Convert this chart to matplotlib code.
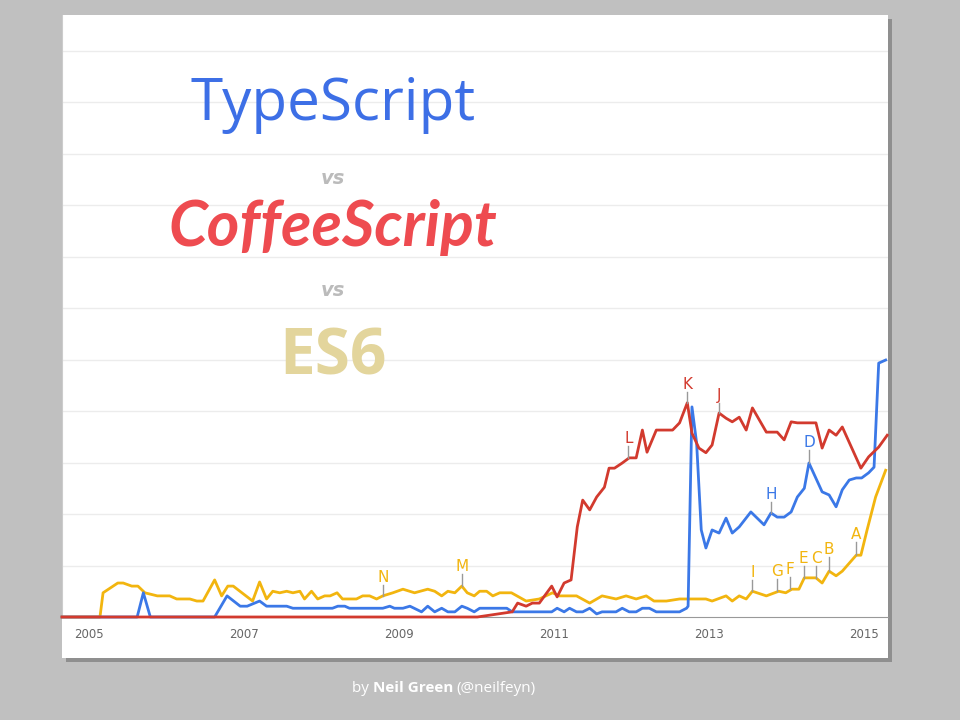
import matplotlib
matplotlib.use("Agg")
import matplotlib.pyplot as plt
from matplotlib.patches import Rectangle

# ---- data (years as decimal, values on a Google-Trends-like scale) ----
es6_x = [2004.65, 2005.14, 2005.18, 2005.37, 2005.44, 2005.55, 2005.63, 2005.72, 2005.88, 2006.04, 2006.13, 2006.30,
         2006.39, 2006.47, 2006.62, 2006.71, 2006.79, 2006.86, 2007.11, 2007.20, 2007.29, 2007.37, 2007.46, 2007.55,
         2007.63, 2007.72, 2007.78, 2007.87, 2007.95, 2008.04, 2008.11, 2008.20, 2008.27, 2008.45, 2008.53, 2008.62,
         2008.71, 2008.79, 2008.92, 2009.05, 2009.20, 2009.37, 2009.46, 2009.55, 2009.63, 2009.72, 2009.81, 2009.88,
         2009.97, 2010.04, 2010.13, 2010.21, 2010.30, 2010.45, 2010.64, 2010.81, 2010.98, 2011.07, 2011.29, 2011.46,
         2011.62, 2011.80, 2011.93, 2012.06, 2012.19, 2012.29, 2012.45, 2012.62, 2012.96, 2013.04, 2013.22, 2013.30,
         2013.39, 2013.48, 2013.56, 2013.74, 2013.90, 2013.99, 2014.07, 2014.16, 2014.23, 2014.38, 2014.46, 2014.55,
         2014.64, 2014.72, 2014.90, 2014.96, 2015.04, 2015.15, 2015.28]
es6_y = [0, 0, 4.7, 6.6, 6.6, 6.0, 6.0, 4.7, 4.1, 4.1, 3.5, 3.5,
         3.1, 3.1, 7.2, 4.1, 6.0, 6.0, 3.1, 6.8, 3.5, 5.0, 4.7, 5.0,
         4.7, 5.0, 3.5, 5.0, 3.5, 4.1, 4.1, 4.7, 3.5, 3.5, 4.1, 4.1,
         3.5, 4.1, 4.7, 5.4, 4.7, 5.4, 5.0, 4.1, 5.0, 4.7, 6.0, 4.7,
         4.1, 5.0, 5.0, 4.1, 4.7, 4.7, 3.1, 3.5, 4.7, 4.1, 4.1, 2.7,
         4.1, 3.5, 4.1, 3.5, 4.1, 3.1, 3.1, 3.5, 3.5, 3.1, 4.1, 3.1,
         4.1, 3.5, 5.0, 4.1, 5.0, 4.7, 5.4, 5.4, 7.6, 7.6, 6.6, 8.9,
         8.0, 8.9, 12.0, 12.0, 16.9, 23.3, 28.5]

ts_x = [2004.65, 2005.62, 2005.70, 2005.79, 2006.62, 2006.78, 2006.95, 2007.04, 2007.20, 2007.29, 2007.55, 2007.63,
        2008.14, 2008.21, 2008.30, 2008.36, 2008.79, 2008.88, 2008.94, 2009.05, 2009.14, 2009.29, 2009.37, 2009.46,
        2009.55, 2009.63, 2009.72, 2009.81, 2009.88, 2009.97, 2010.04, 2010.39, 2010.46, 2010.97, 2011.04, 2011.13,
        2011.20, 2011.29, 2011.37, 2011.46, 2011.55, 2011.62, 2011.80, 2011.88, 2011.97, 2012.06, 2012.14, 2012.23,
        2012.32, 2012.62, 2012.71, 2012.73, 2012.78, 2012.84, 2012.90, 2012.96, 2013.04, 2013.13, 2013.22, 2013.30,
        2013.39, 2013.54, 2013.71, 2013.80, 2013.88, 2013.97, 2014.06, 2014.14, 2014.23, 2014.29, 2014.46, 2014.55,
        2014.64, 2014.72, 2014.81, 2014.90, 2014.97, 2015.06, 2015.13, 2015.19, 2015.28]
ts_y = [0, 0, 4.7, 0, 0, 4.1, 2.1, 2.1, 3.1, 2.1, 2.1, 1.7,
        1.7, 2.1, 2.1, 1.7, 1.7, 2.1, 1.7, 1.7, 2.1, 1.0, 2.1, 1.0,
        1.7, 1.0, 1.0, 2.1, 1.7, 1.0, 1.7, 1.7, 1.0, 1.0, 1.7, 1.0,
        1.7, 1.0, 1.0, 1.7, 0.6, 1.0, 1.0, 1.7, 1.0, 1.0, 1.7, 1.7,
        1.0, 1.0, 1.7, 2.1, 40.8, 33.8, 16.9, 13.4, 16.9, 16.3, 19.2, 16.3,
        17.5, 20.4, 17.9, 20.2, 19.4, 19.4, 20.4, 23.3, 25.0, 29.9, 24.3, 23.7,
        21.4, 24.7, 26.6, 27.0, 27.0, 28.0, 29.1, 49.3, 49.9]

cs_x = [2004.65, 2010.01, 2010.46, 2010.53, 2010.64, 2010.72, 2010.81, 2010.97, 2011.04, 2011.13, 2011.22, 2011.30,
        2011.37, 2011.46, 2011.55, 2011.65, 2011.71, 2011.78, 2011.88, 2011.97, 2012.06, 2012.14, 2012.20, 2012.32,
        2012.53, 2012.62, 2012.72, 2012.78, 2012.87, 2012.96, 2013.04, 2013.13, 2013.22, 2013.30, 2013.39, 2013.48,
        2013.56, 2013.74, 2013.88, 2013.97, 2014.06, 2014.14, 2014.38, 2014.46, 2014.55, 2014.64, 2014.72, 2014.96,
        2015.06, 2015.19, 2015.30]
cs_y = [0, 0, 1.0, 2.7, 2.1, 2.7, 2.7, 6.0, 3.9, 6.6, 7.2, 17.5,
        22.7, 20.8, 23.3, 25.2, 28.9, 28.9, 29.9, 30.9, 30.9, 36.3, 32.0, 36.3,
        36.3, 37.7, 41.6, 35.7, 32.8, 31.9, 33.4, 39.6, 38.6, 37.9, 38.8, 36.3,
        40.6, 35.9, 35.9, 34.4, 37.9, 37.7, 37.7, 32.8, 36.3, 35.3, 36.9, 28.9,
        31.1, 33.0, 35.3]

# annotations: letter, series, year, value at point, label height
ann_letters = ["N", "M", "L", "K", "J", "D", "H", "I", "G", "F", "E", "C", "B", "A"]
ann_series = ["es6", "es6", "cs", "cs", "cs", "ts", "ts", "es6", "es6", "es6", "es6", "es6", "es6", "es6"]
ann_year = [2008.79, 2009.81, 2011.96, 2012.72, 2013.13, 2014.29, 2013.80, 2013.56, 2013.88, 2014.05, 2014.22, 2014.38, 2014.55, 2014.90]
ann_point = [4.1, 6.0, 30.9, 41.6, 39.6, 29.9, 20.2, 5.0, 5.0, 5.4, 7.6, 7.6, 8.9, 12.0]
ann_label = [8.7, 10.7, 35.7, 46.0, 44.0, 34.8, 24.7, 9.5, 9.7, 10.1, 12.4, 12.4, 14.0, 16.9]

year_ticks = [2005, 2007, 2009, 2011, 2013, 2015]

colors = {"ts": "#3b78e7", "cs": "#d23a2e", "es6": "#f2b50f"}

W, H = 960, 720
fig = plt.figure(figsize=(9.6, 7.2), dpi=100)
fig.patch.set_facecolor("#c0c0c0")
# shadow + white panel
fig.add_artist(Rectangle((66 / W, 1 - 662 / H), 826 / W, 643 / H, transform=fig.transFigure,
                         facecolor="#8f8f8f", edgecolor="none", zorder=-3))
fig.add_artist(Rectangle((62 / W, 1 - 658 / H), 826 / W, 643 / H, transform=fig.transFigure,
                         facecolor="white", edgecolor="none", zorder=-2))

ax = fig.add_axes([62 / W, 1 - 617 / H, 826 / W, 602 / H])
ax.set_zorder(1)
ax.set_facecolor("none")
ax.set_xlim(2004.65, 2015.31)
ax.set_ylim(0, 116.9)
for v in range(10, 120, 10):
    ax.axhline(v, color="#ececec", lw=1, zorder=0)
for s in ["top", "right"]:
    ax.spines[s].set_visible(False)
ax.spines["left"].set_color("#cccccc")
ax.spines["bottom"].set_color("#999999")
ax.set_yticks([])
ax.set_xticks(year_ticks)
ax.set_xticklabels([str(y) for y in year_ticks], color="#666666", fontsize=8.5)
ax.tick_params(axis="x", length=0, pad=8)

ax.plot(es6_x, es6_y, color=colors["es6"], lw=2, zorder=3, clip_on=False)
ax.plot(ts_x, ts_y, color=colors["ts"], lw=2, zorder=4, clip_on=False)
ax.plot(cs_x, cs_y, color=colors["cs"], lw=2, zorder=5, clip_on=False)

for L, s, x, p, lab in zip(ann_letters, ann_series, ann_year, ann_point, ann_label):
    ax.plot([x, x], [p, lab - 2.4], color="#999999", lw=1, zorder=6)
    ax.text(x, lab - 2.4, L, color=colors[s], ha="center", va="bottom", fontsize=11, zorder=7)

# logos
fig.text(333 / W, 1 - 105 / H, "TypeScript", color="#3d6fe6", fontsize=42, ha="center", va="center",
         family="Open Sans")
fig.text(333 / W, 1 - 178 / H, "vs", color="#bbbbbb", fontsize=14, ha="center", va="center",
         style="italic", weight="bold")
fig.text(333 / W, 1 - 228 / H, "CoffeeScript", color="#ee4b50", fontsize=45, ha="center", va="center",
         style="italic", weight="bold", family="Lato")
fig.text(333 / W, 1 - 290 / H, "vs", color="#bbbbbb", fontsize=14, ha="center", va="center",
         style="italic", weight="bold")
fig.text(333 / W, 1 - 358 / H, "ES6", color="#e3d59c", fontsize=46, ha="center", va="center",
         weight="bold", family="Open Sans")

# footer
t1 = fig.text(352 / W, 1 - 688 / H, "by ", color="white", fontsize=11, va="center", family="Open Sans")
t2 = fig.text(0, 0, "Neil Green", color="white", fontsize=11, weight="bold", family="Open Sans",
              transform=t1.get_transform())
fig.canvas.draw()
r = fig.canvas.get_renderer()
bb1 = t1.get_window_extent(r)
t2.set_position(((bb1.x1) / W, 1 - 688 / H))
t2.set_va("center")
bb2 = t2.get_window_extent(r)
fig.text(bb2.x1 / W + 3 / W, 1 - 688 / H, "(@neilfeyn)", color="white", fontsize=11, va="center",
         family="Open Sans")

fig.savefig("out.png", dpi=100, facecolor=fig.get_facecolor())
